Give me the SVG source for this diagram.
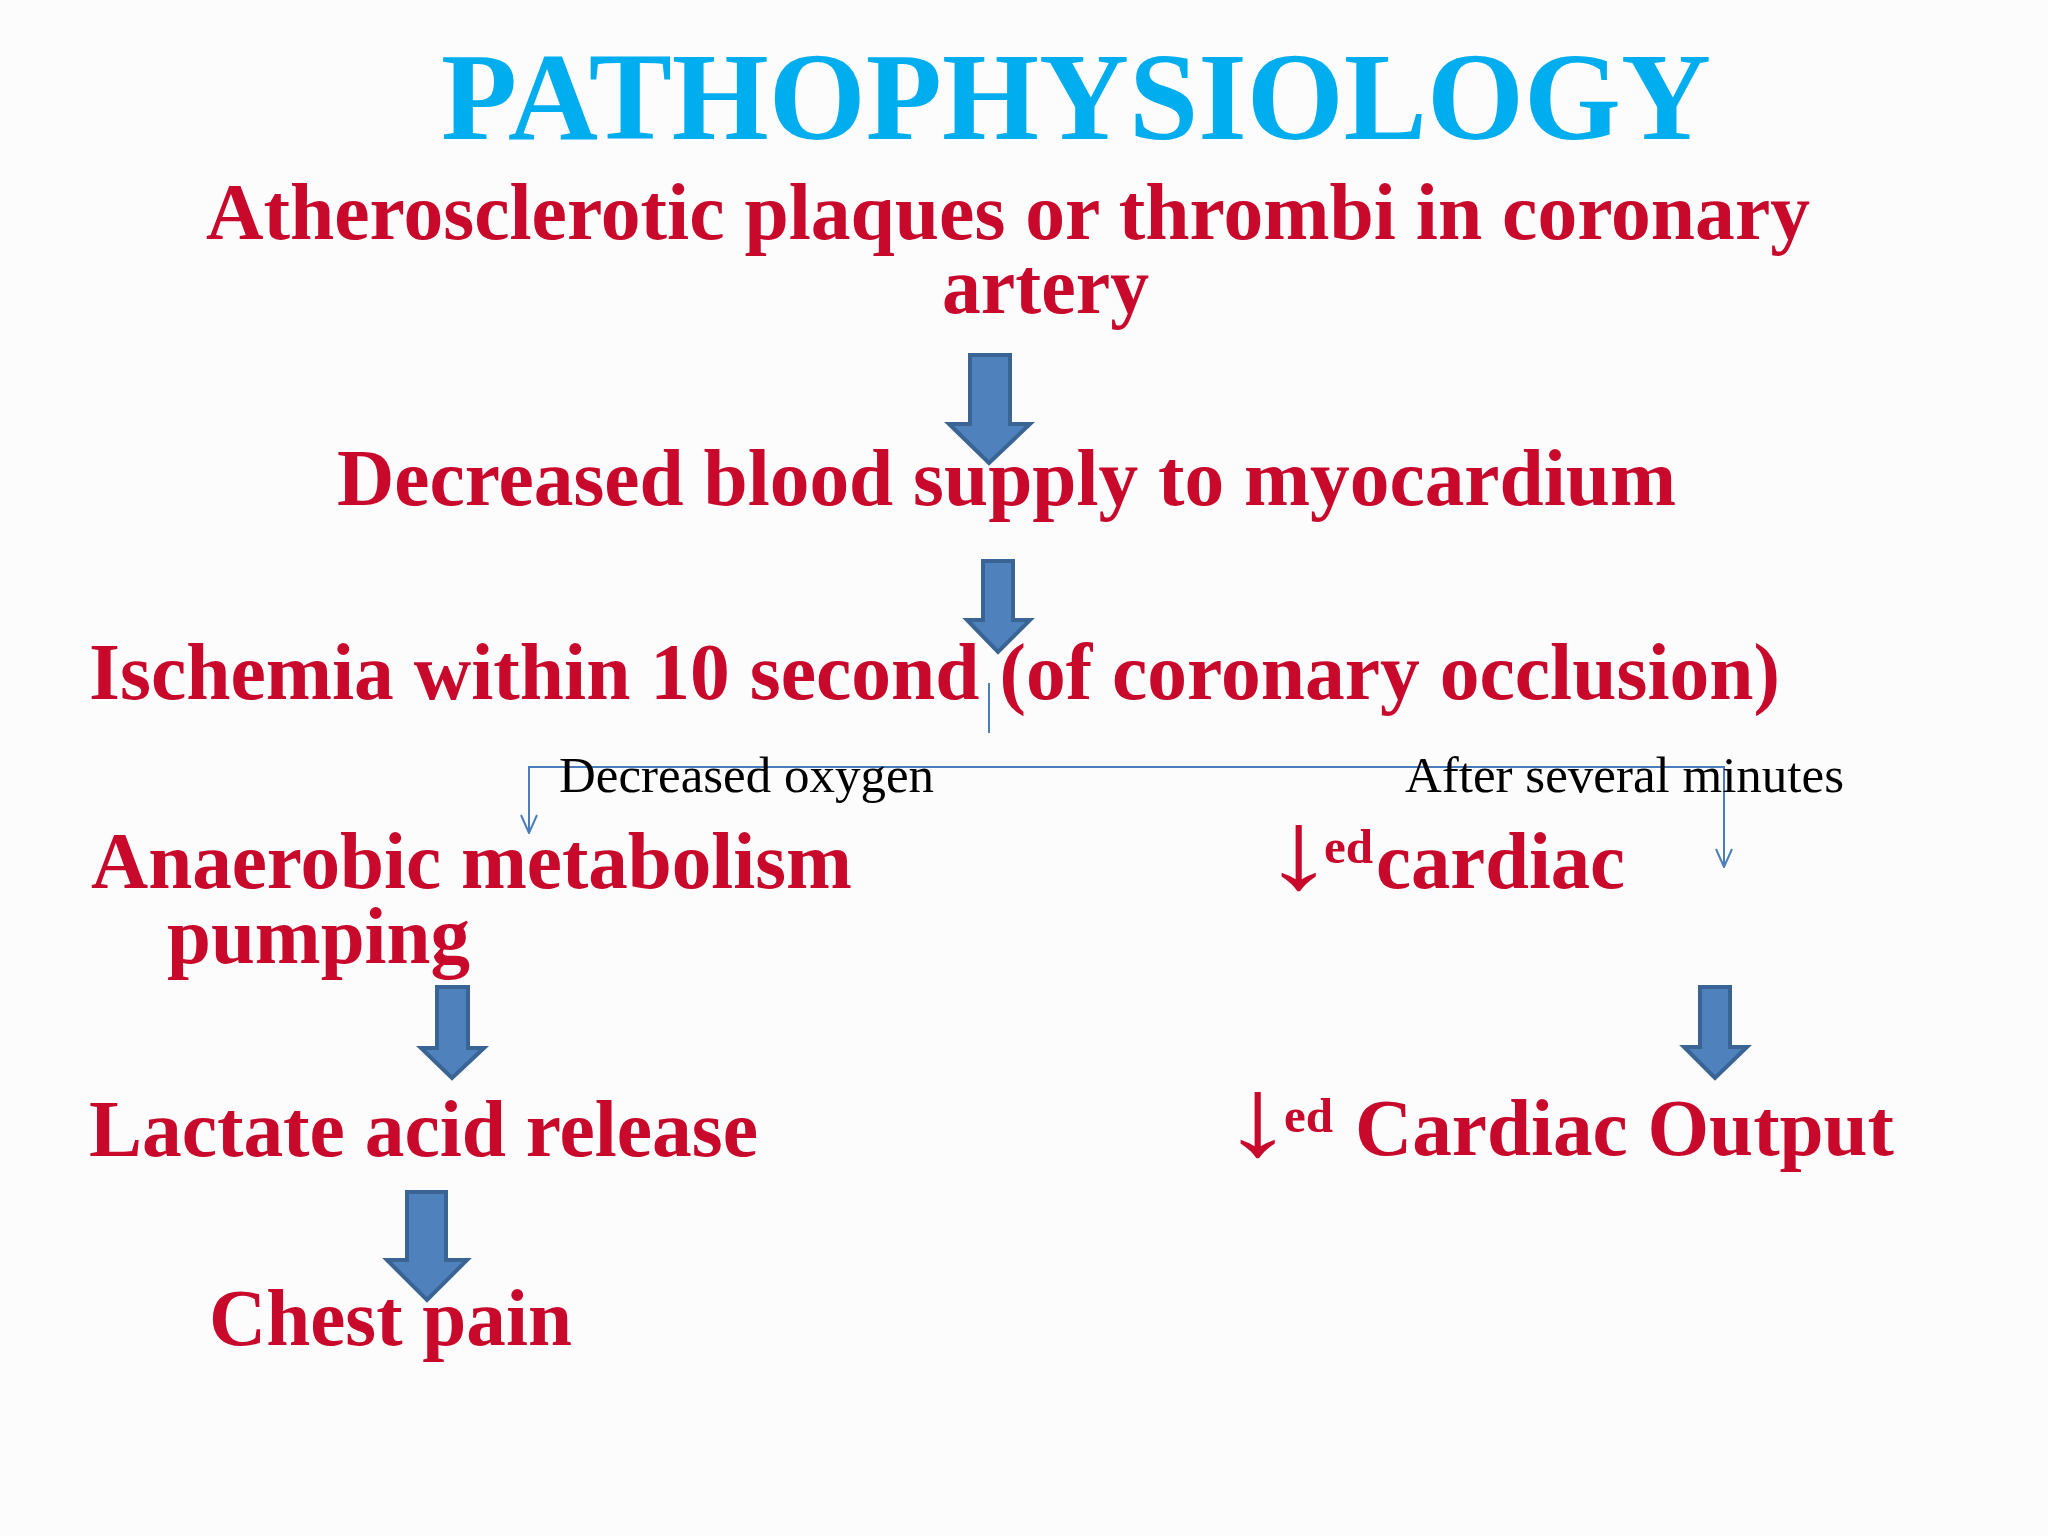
<svg xmlns="http://www.w3.org/2000/svg" width="2048" height="1536" viewBox="0 0 2048 1536">
<defs>
<style>
.title{font-family:"Liberation Serif","Times New Roman",serif;font-weight:bold;fill:#00AEEF;font-size:125px}
.red{font-family:"Liberation Serif","Times New Roman",serif;font-weight:bold;fill:#C8092B;font-size:80px}
.sup{font-family:"Liberation Serif","Times New Roman",serif;font-weight:bold;fill:#C8092B;font-size:48px}
.arr{font-family:"Liberation Serif","DejaVu Serif",serif;font-weight:bold;fill:#C8092B;font-size:112px}
.lbl{font-family:"Liberation Serif","Times New Roman",serif;fill:#000;font-size:51px}
.blk{fill:#4F81BD;stroke:#3A6494;stroke-width:4;stroke-linejoin:miter}
.conn{fill:none;stroke:#4A7EBB;stroke-width:2}
</style>
<marker id="open" viewBox="0 0 20 20" refX="19" refY="10" markerWidth="20" markerHeight="20" markerUnits="userSpaceOnUse" orient="auto-start-reverse">
<path d="M1,2 L19,10 L1,18" fill="none" stroke="#4A7EBB" stroke-width="2"/>
</marker>
</defs>
<rect width="2048" height="1536" fill="#FCFCFC"/>
<g id="title"><text class="title" x="441" y="139" textLength="1270" lengthAdjust="spacingAndGlyphs">PATHOPHYSIOLOGY</text></g>
<g id="node-plaques">
<text class="red" x="206" y="239" textLength="1604" lengthAdjust="spacingAndGlyphs">Atherosclerotic plaques or thrombi in coronary</text>
<text class="red" x="942" y="313" textLength="207" lengthAdjust="spacingAndGlyphs">artery</text>
</g>
<g id="node-decreased"><text class="red" x="337" y="505" textLength="1339" lengthAdjust="spacingAndGlyphs">Decreased blood supply to myocardium</text></g>
<g id="node-ischemia"><text class="red" x="89" y="699" textLength="1691" lengthAdjust="spacingAndGlyphs">Ischemia within 10 second (of coronary occlusion)</text></g>
<g id="node-anaerobic">
<text class="red" x="91" y="888" textLength="761" lengthAdjust="spacingAndGlyphs">Anaerobic metabolism</text>
<text class="red" x="167" y="963" textLength="303" lengthAdjust="spacingAndGlyphs">pumping</text>
</g>
<g id="node-lactate"><text class="red" x="89" y="1156" textLength="669" lengthAdjust="spacingAndGlyphs">Lactate acid release</text></g>
<g id="node-chest"><text class="red" x="209" y="1345" textLength="363" lengthAdjust="spacingAndGlyphs">Chest pain</text></g>
<g id="node-cardiac">
<text class="arr" transform="translate(1262,888) scale(1.3,1)" x="0" y="0">↓</text>
<text class="sup" x="1324" y="863" textLength="49" lengthAdjust="spacingAndGlyphs">ed</text>
<text class="red" x="1376" y="888" textLength="249" lengthAdjust="spacingAndGlyphs">cardiac</text>
</g>
<g id="node-output">
<text class="arr" transform="translate(1221,1155) scale(1.3,1)" x="0" y="0">↓</text>
<text class="sup" x="1284" y="1132" textLength="49" lengthAdjust="spacingAndGlyphs">ed</text>
<text class="red" x="1355" y="1155" textLength="539" lengthAdjust="spacingAndGlyphs">Cardiac Output</text>
</g>
<g id="connectors">
<path class="blk" d="M970,355 L1010,355 L1010,424 L1030,424 L989,463 L949,424 L970,424 Z"/>
<path class="blk" d="M983,561 L1013,561 L1013,620 L1030,620 L998,652 L967,620 L983,620 Z"/>
<path class="blk" d="M437,987 L468,987 L468,1048 L484,1048 L452,1078 L421,1048 L437,1048 Z"/>
<path class="blk" d="M407,1192 L446,1192 L446,1260 L467,1260 L427,1300 L387,1260 L407,1260 Z"/>
<path class="blk" d="M1700,987 L1730,987 L1730,1047 L1747,1047 L1715,1078 L1684,1047 L1700,1047 Z"/>
<line class="conn" x1="989" y1="683" x2="989" y2="733"/>
<path class="conn" d="M529,833 L529,767 L1724,767 L1724,867" marker-start="url(#open)" marker-end="url(#open)"/>
<text class="lbl" x="559" y="792" textLength="375" lengthAdjust="spacingAndGlyphs">Decreased oxygen</text>
<text class="lbl" x="1405" y="792" textLength="439" lengthAdjust="spacingAndGlyphs">After several minutes</text>
</g>
</svg>
